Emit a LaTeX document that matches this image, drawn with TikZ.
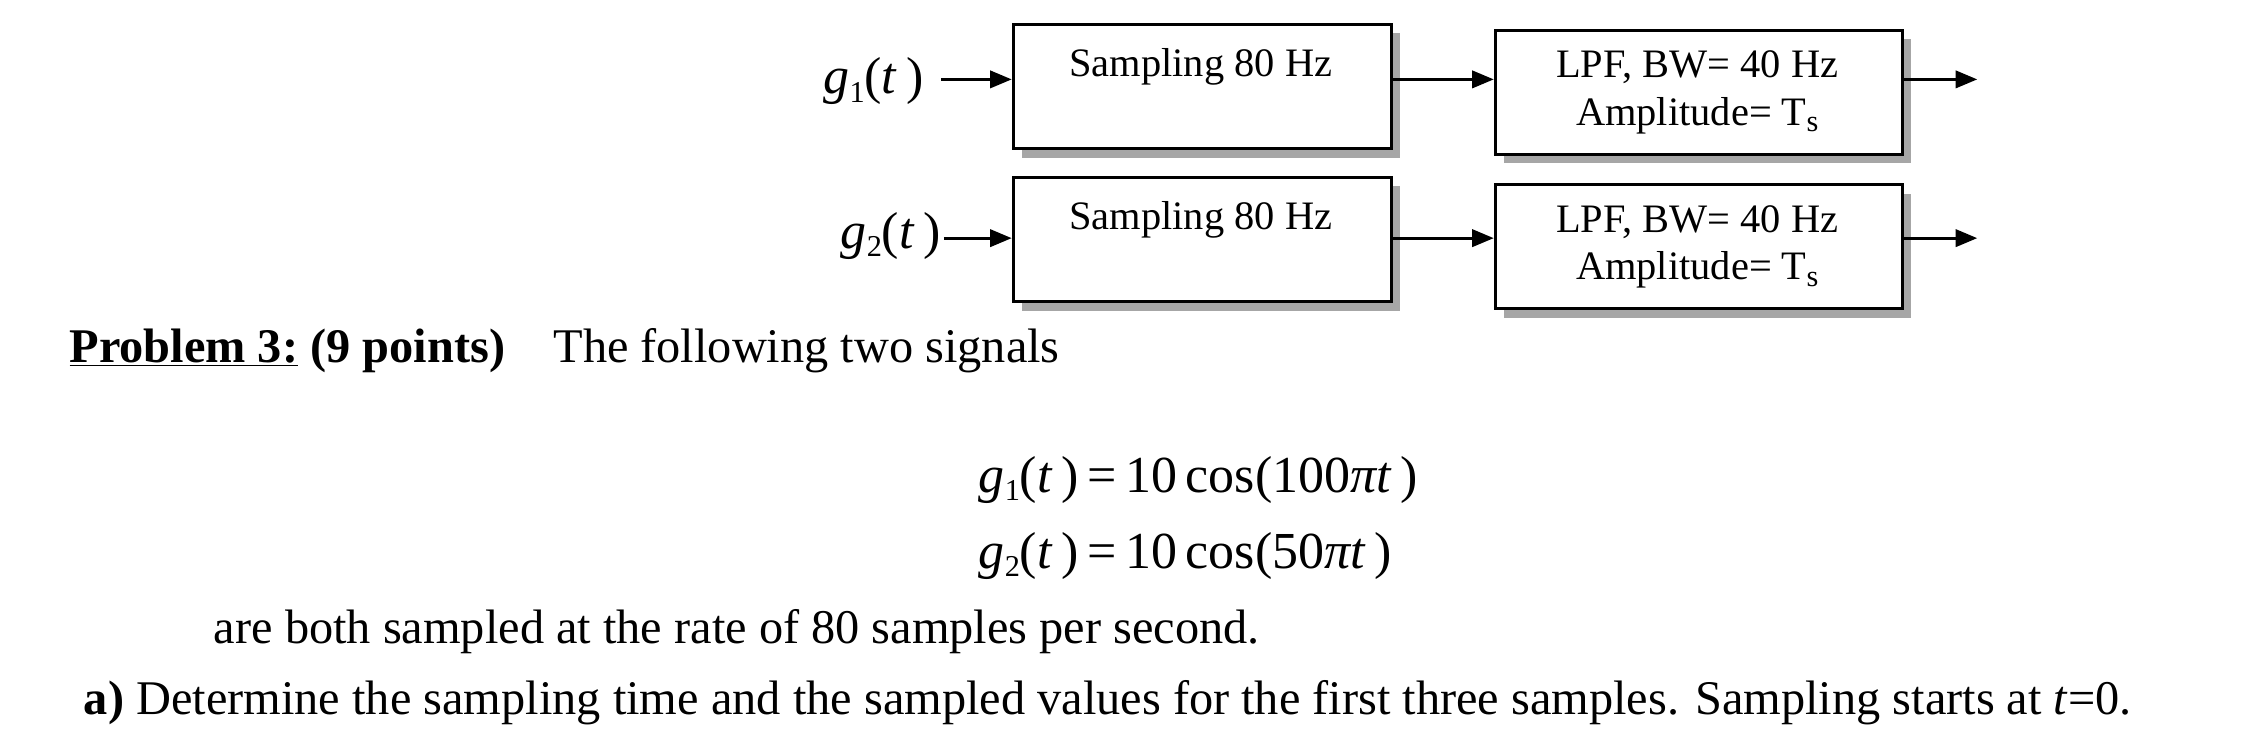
\documentclass[tikz,border=0pt]{standalone}
\usepackage{fontspec}
\setmainfont{Liberation Serif}
\usetikzlibrary{arrows.meta}
\newcommand{\low}[1]{\raisebox{-0.35ex}{\fontsize{21}{21}\selectfont #1}}
\newcommand{\sigg}[1]{\textit{g}\low{#1}(\textit{t}\,)}
\begin{document}
\begin{tikzpicture}[x=1pt,y=-1pt,
  blk/.style={draw,line width=2pt,fill=white,minimum width=262pt,minimum height=86pt,anchor=north west,inner sep=0pt},
  shd/.style={fill=gray!70,draw=none,minimum width=262pt,minimum height=86pt,anchor=north west},
  arr/.style={line width=2pt,-{Triangle[length=15pt,width=12pt]}},
  txt/.style={font=\fontsize{28}{33}\selectfont,inner sep=0pt},
  big/.style={font=\fontsize{33.5}{38}\selectfont,inner sep=0pt,anchor=base west}]
\useasboundingbox (0,0) rectangle (1568,507);
% shadows
\node[shd] at (708,23) {}; \node[shd,minimum width=282pt] at (1042,27) {};
\node[shd] at (708,129) {}; \node[shd,minimum width=282pt] at (1042,134) {};
% boxes
\node[blk] (s1) at (701,16) {};
\node[blk,minimum width=282pt] (f1) at (1035,20) {};
\node[blk] (s2) at (701,122) {};
\node[blk,minimum width=282pt] (f2) at (1035,127) {};
\node[txt] (s1t) at (832,46) {Sampling 80 Hz};
\node[txt] (s2t) at (832,152) {Sampling 80 Hz};
\node[txt,align=center] (f1t) at (1176,64) {LPF, BW= 40 Hz\\Amplitude= T\low{s}};
\node[txt,align=center] (f2t) at (1176,171) {LPF, BW= 40 Hz\\Amplitude= T\low{s}};
% inputs
\node[big,font=\fontsize{36}{40}\selectfont,anchor=base east] (g1) at (640,65) {\sigg{1}};
\node[big,font=\fontsize{36}{40}\selectfont,anchor=base east] (g2) at (652,172) {\sigg{2}};
\coordinate (o1) at (1370,55); \coordinate (o2) at (1370,165);
\draw[arr] (g1.east|-0,55) ++(12,0) -- (s1.west|-0,55);
\draw[arr] (g2.east|-0,165) ++(2,0) -- (s2.west|-0,165);
\draw[arr] (s1.east|-0,55) -- (f1.west|-0,55);
\draw[arr] (s2.east|-0,165) -- (f2.west|-0,165);
\draw[arr] (f1.east|-0,55) -- (o1);
\draw[arr] (f2.east|-0,165) -- (o2);
% text
\node[big] (p) at (48,251) {\textbf{\underline{Problem 3:}} \textbf{(9 points)}\quad The following two signals};
\node[big,font=\fontsize{36}{40}\selectfont] (e1) at (678,341) {\sigg{1}\,=\,10\,cos(100\textit{πt}\,)};
\node[big,font=\fontsize{36}{40}\selectfont] (e2) at (678,394) {\sigg{2}\,=\,10\,cos(50\textit{πt}\,)};
\node[big] (l1) at (148,446) {are both sampled at the rate of 80 samples per second.};
\node[big] (l2) at (58,495) {\textbf{a)} Determine the sampling time and the sampled values for the first three samples. Sampling starts at \textit{t}=0.};
\end{tikzpicture}
\end{document}
